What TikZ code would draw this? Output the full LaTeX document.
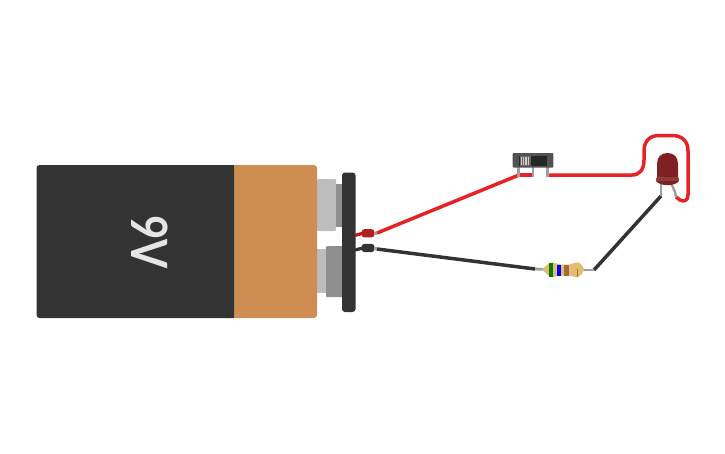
\documentclass[tikz,border=0pt]{standalone}
\usepackage{fontspec}
\setsansfont{Lato}
\usetikzlibrary{calc}
\definecolor{darkbody}{HTML}{333333}
\definecolor{copper}{HTML}{CF8D52}
\definecolor{termlight}{HTML}{BDBDBD}
\definecolor{termdark}{HTML}{8F8F8F}
\definecolor{wirered}{HTML}{E62225}
\definecolor{snapred}{HTML}{B01E1E}
\definecolor{ledred}{HTML}{7F2022}
\definecolor{ledrim}{HTML}{8E3A3A}
\definecolor{restan}{HTML}{E0BC78}
\definecolor{pingrey}{HTML}{A0A0A0}
\tikzset{
	wire/.style={line width=3.5pt, line join=round},
	redwire/.style={wire, wirered},
	blackwire/.style={wire, darkbody},
	pin/.style={line width=2.4pt, pingrey},
	band/.style={line width=4.4pt},
	snaptail/.style={line width=3.2pt},
	snapbody/.style={rounded corners=3pt}
}
\begin{document}
\begin{tikzpicture}[x=1pt, y=-1pt]
	% --- 1. CANVAS ---
	\useasboundingbox (0, 0) rectangle (725, 453);
	
	% Wire Ends
	\coordinate (batred) at (377, 233);
	\coordinate (batblack) at (377, 249);
	\coordinate (swa) at (519, 175);
	\coordinate (swb) at (533.5, 175);
	\coordinate (swc) at (548, 175);
	\coordinate (resl) at (535, 269);
	\coordinate (resr) at (594, 270);
	\coordinate (leda) at (661, 196);
	\coordinate (ledc) at (676, 197);
	
	% --- 2. BATTERY ---
	\fill[termlight, rounded corners=1pt] (317, 179) rectangle (336, 231);
	\fill[termdark] (336, 183.5) rectangle (343, 227);
	\fill[termlight] (317, 249) rectangle (327, 293);
	\fill[termdark, rounded corners=1pt] (326, 246) rectangle (343, 297);
	\fill[copper, rounded corners=3pt] (225, 165) rectangle (317, 318);
	\fill[darkbody, rounded corners=3pt] (36.5, 165) rectangle (234, 318);
	\fill[darkbody] (225, 165) rectangle (234, 318);
	\fill[darkbody, rounded corners=3pt] (342, 172.5) rectangle (355.5, 312);
	\node[text=white!90!black, font=\sffamily\bfseries\fontsize{50}{50}\selectfont, rotate=-90, xscale=0.84, inner sep=0pt] (label) at (149.5, 242) {9V};
	
	% --- 3. WIRES ---
	\draw[redwire] (batred) -- (swa);
	\draw[redwire] (swa) -- (swb);
	\draw[redwire] (swc) -- (632, 175)
		.. controls (640, 175) and (644, 169) .. (644, 160)
		-- (644, 151)
		.. controls (644, 141) and (650, 135.5) .. (659, 135.5)
		-- (672, 135.5)
		.. controls (682, 135.5) and (688, 141) .. (688, 151)
		-- (688, 195)
		.. controls (688, 201) and (684, 202) .. (680, 200)
		-- (ledc);
	\draw[blackwire] (batblack) -- (resl);
	\draw[blackwire] (resr) -- (leda);
	
	% --- 4. SNAP CONNECTORS ---
	\draw[snaptail, snapred] (355, 235.3) -- (363, 233.3);
	\fill[snapred, snapbody] (361.5, 229.2) rectangle (374.5, 237.4);
	\draw[line width=3.4pt, pingrey] (374, 233.5) -- (batred);
	\draw[snaptail, darkbody] (355, 250) -- (363, 248);
	\fill[darkbody, snapbody] (361.5, 243.9) rectangle (374.5, 252.1);
	\draw[line width=3.4pt, pingrey] (374, 248.3) -- (batblack);
	
	% --- 5. SWITCH ---
	\foreach \px in {518.5, 533, 547.5}
		\draw[pin] (\px, 167) -- (\px, 176.5);
	\fill[black!68, rounded corners=1pt] (512.7, 153) rectangle (553.3, 167.7);
	\fill[black!85] (519, 155.5) rectangle (547, 165.5);
	\fill[black!60] (520, 155.5) rectangle (531, 165.5);
	\foreach \sx in {521.5, 523.3, ..., 530.5}
		\draw[white!80!black, line width=0.9pt] (\sx, 156.5) -- (\sx, 164.5);
	
	% --- 6. RESISTOR ---
	\draw[line width=2.8pt, pingrey] (resl) -- (548, 269.5);
	\draw[line width=2.8pt, pingrey] (582, 270) -- (resr);
	\fill[restan] (542, 269.5)
		.. controls (546, 266) and (548, 262.5) .. (553, 262.5)
		.. controls (556, 262.5) and (557, 264.5) .. (560, 264.5)
		-- (569, 264.5)
		.. controls (572, 264.5) and (573, 262.5) .. (577, 262.5)
		.. controls (581, 262.5) and (582, 266) .. (584.5, 269.5)
		.. controls (582, 273) and (581, 277) .. (577, 277)
		.. controls (573, 277) and (572, 275.5) .. (569, 275.5)
		-- (560, 275.5)
		.. controls (557, 275.5) and (556, 277) .. (553, 277)
		.. controls (548, 277) and (546, 273) .. (542, 269.5) -- cycle;
	\draw[band, green!50!black] (551, 262.7) -- (551, 276.8);
	\draw[band, blue] (558.8, 264.5) -- (558.8, 275.5);
	\draw[band, brown!85!black] (566.4, 264.5) -- (566.4, 275.5);
	\draw[line width=1.6pt, yellow!85!black] (577.5, 263) -- (577.5, 269);
	\draw[line width=1.6pt, olive] (577.5, 269) -- (577.5, 276.5);
	
	% --- 7. LED ---
	\draw[pin] (661, 184) -- (leda);
	\draw[pin] (671.5, 184) -- (675, 192) -- (ledc);
	\fill[ledred] (657, 181) -- (657, 164)
		.. controls (657, 157) and (661, 153) .. (667.5, 153)
		.. controls (674, 153) and (678, 157) .. (678, 164)
		-- (678, 181) -- cycle;
	\fill[ledrim, rounded corners=2pt] (656, 177) rectangle (679, 182);
	\fill[ledred] (656, 181) .. controls (660, 186.5) and (675, 186.5) .. (679, 181) -- cycle;
\end{tikzpicture}
\end{document}
